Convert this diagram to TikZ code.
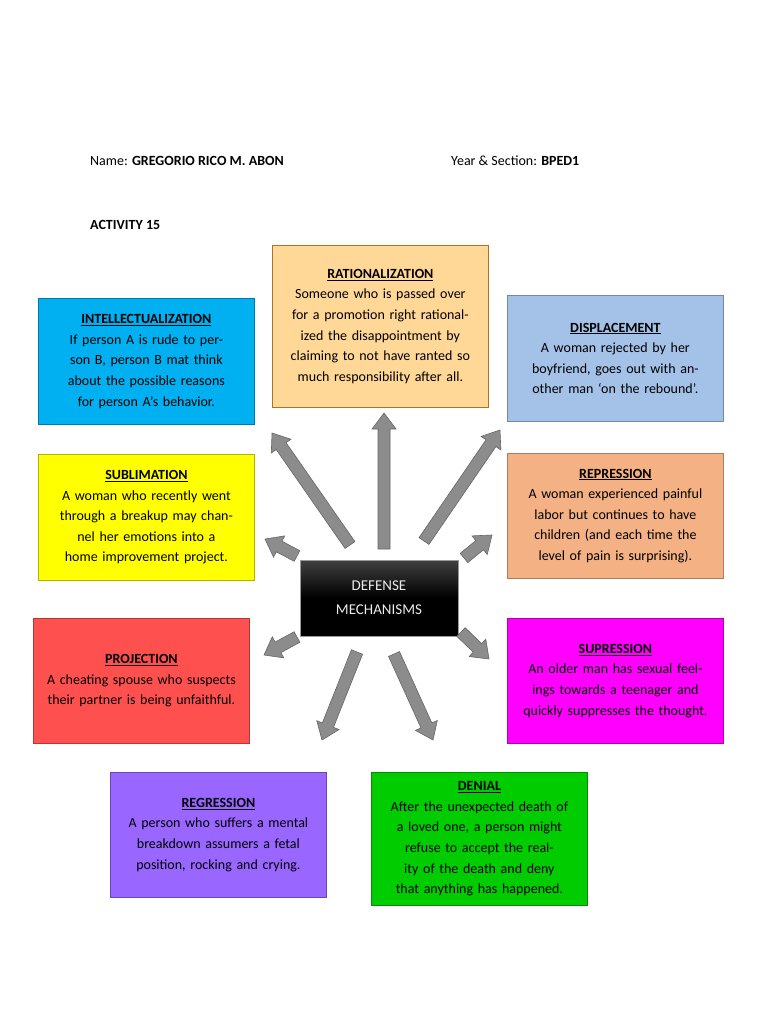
\documentclass[tikz,border=0pt]{standalone}
\usepackage{fontspec}
\setmainfont{Carlito}
\usetikzlibrary{calc}
\definecolor{cRat}{HTML}{FFD797}
\definecolor{cRatB}{HTML}{F4A533}
\definecolor{cInt}{HTML}{00B0F0}
\definecolor{cDis}{HTML}{A4C2E8}
\definecolor{cSub}{HTML}{FFFF00}
\definecolor{cRep}{HTML}{F4B183}
\definecolor{cPro}{HTML}{FF5050}
\definecolor{cSup}{HTML}{FF00FF}
\definecolor{cReg}{HTML}{9966FF}
\definecolor{cDen}{HTML}{00CC00}
\definecolor{arrG}{HTML}{8C8C8C}
\tikzset{
 x=1pt,y=-1pt,
 mbox/.style={draw=#1!70!black,line width=0.8pt,anchor=north west,align=center,text width=206pt,inner sep=5pt,font=\fontsize{14}{20.6}\selectfont},
 hdr/.style={anchor=west,font=\fontsize{14}{17}\selectfont,inner sep=0pt},
 barr/.style={fill=arrG,draw=black!60,line width=0.6pt,line join=miter},
}
\newcommand\ttl[1]{\textbf{\underline{#1}}}
\newcommand\blockarrow[2]{%
 \coordinate (bh) at ($(#2)!16pt!(#1)$);
 \path[barr] ($(#1)!6pt!90:(#2)$) -- ($(bh)!6pt!-90:(#1)$) -- ($(bh)!12pt!-90:(#1)$) -- (#2)
   -- ($(bh)!12pt!90:(#1)$) -- ($(bh)!6pt!90:(#1)$) -- ($(#1)!6pt!-90:(#2)$) -- cycle;}
\begin{document}
\begin{tikzpicture}
\useasboundingbox[fill=white] (0,0) rectangle (768,1024);
\node[hdr] (name) at (90,161) {Name: \textbf{GREGORIO RICO M. ABON}};
\node[hdr] (year) at (451,161) {Year \& Section: \textbf{BPED1}};
\node[hdr] (act) at (90,225) {\textbf{ACTIVITY 15}};

\node[mbox=cRatB,fill=cRat,minimum height=162pt] (rat) at (272,245) {\ttl{RATIONALIZATION}\\Someone who is passed over for a promotion right rationalized the disappointment by claiming to not have ranted so much responsibility after all.};
\node[mbox=cInt,fill=cInt,minimum height=126pt] (int) at (38,298) {\ttl{INTELLECTUALIZATION}\\If person A is rude to person B, person B mat think about the possible reasons for person A’s behavior.};
\node[mbox=cDis,fill=cDis,minimum height=126pt] (dis) at (507,295) {\ttl{DISPLACEMENT}\\A woman rejected by her boyfriend, goes out with another man ‘on the rebound’.};
\node[mbox=cSub,fill=cSub,minimum height=126pt] (sub) at (38,454) {\ttl{SUBLIMATION}\\A woman who recently went through a breakup may channel her emotions into a home improvement project.};
\node[mbox=cRep,fill=cRep,minimum height=125pt] (rep) at (507,453) {\ttl{REPRESSION}\\A woman experienced painful labor but continues to have children (and each time the level of pain is surprising).};
\node[mbox=cPro,fill=cPro,minimum height=125pt] (pro) at (33,618) {\ttl{PROJECTION}\\A cheating spouse who suspects their partner is being unfaithful.};
\node[mbox=cSup,fill=cSup,minimum height=125pt] (sup) at (507,618) {\ttl{SUPRESSION}\\An older man has sexual feelings towards a teenager and quickly suppresses the thought.};
\node[mbox=cReg,fill=cReg,minimum height=125pt] (reg) at (110,772) {\ttl{REGRESSION}\\A person who suffers a mental breakdown assumers a fetal position, rocking and crying.};
\node[mbox=cDen,fill=cDen,minimum height=133pt] (den) at (371,772) {\ttl{DENIAL}\\After the unexpected death of a loved one, a person might refuse to accept the reality of the death and deny that anything has happened.};

\shade[top color=black!75,bottom color=black,middle color=black] (300,560) rectangle (458,636);
\draw[black!40,line width=0.6pt] (300,560) rectangle (458,636);
\node[align=center,text=black!8,font=\fontsize{15}{24}\selectfont] (dm) at (379,598) {DEFENSE\\MECHANISMS};

\coordinate (t1) at (350,545); \coordinate (h1) at (272,433);
\coordinate (t2) at (384,549); \coordinate (h2) at (384,413);
\coordinate (t3) at (424,541); \coordinate (h3) at (500,430);
\coordinate (t4) at (297,556); \coordinate (h4) at (265,539);
\coordinate (t5) at (464,558); \coordinate (h5) at (492,535);
\coordinate (t6) at (297,637); \coordinate (h6) at (264,655);
\coordinate (t7) at (461,632); \coordinate (h7) at (489,659);
\coordinate (t8) at (357,652); \coordinate (h8) at (322,740);
\coordinate (t9) at (394,654); \coordinate (h9) at (433,740);
\blockarrow{t1}{h1}\blockarrow{t2}{h2}\blockarrow{t3}{h3}
\blockarrow{t4}{h4}\blockarrow{t5}{h5}\blockarrow{t6}{h6}
\blockarrow{t7}{h7}\blockarrow{t8}{h8}\blockarrow{t9}{h9}
\end{tikzpicture}
\end{document}
